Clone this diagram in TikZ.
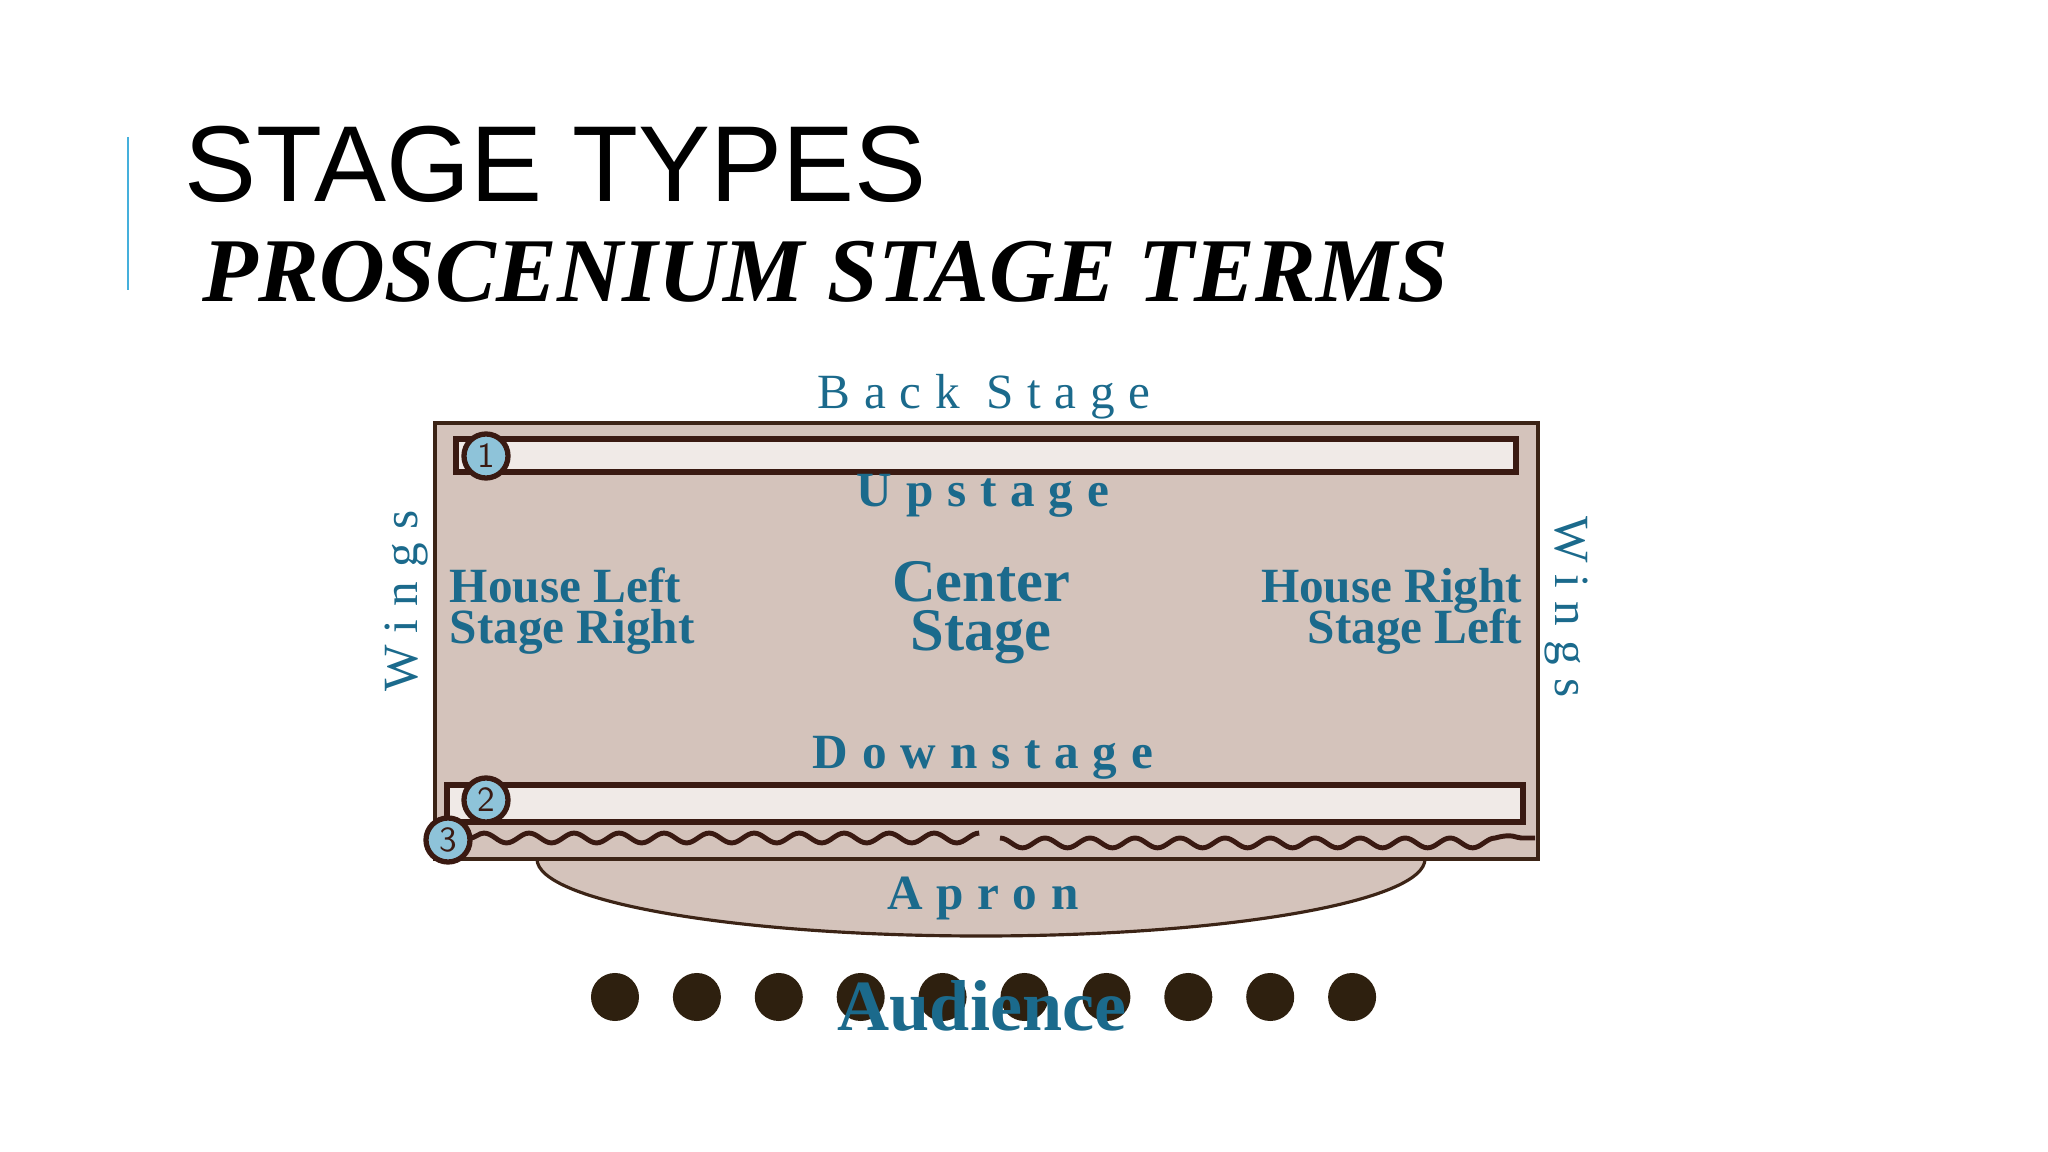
\documentclass[tikz,border=0pt]{standalone}
\usepackage{fontspec}
\setmainfont{Liberation Serif}
\newfontfamily\headfont{Liberation Sans}
\newfontfamily\trackfont[LetterSpace=28]{Liberation Serif}
\usetikzlibrary{decorations.pathmorphing}
\newcommand\tightlines{\lineskiplimit=-20pt\relax}
\definecolor{stageblue}{HTML}{1B6A8C}
\definecolor{stagefill}{HTML}{D4C3BB}
\definecolor{stageline}{HTML}{3C2416}
\definecolor{barline}{HTML}{3A1A12}
\definecolor{curtainfill}{HTML}{F0EAE7}
\definecolor{markfill}{HTML}{8EC3D9}
\definecolor{seatbrown}{HTML}{2E200F}
\definecolor{accentblue}{HTML}{45B0DC}
\begin{document}
\begin{tikzpicture}[x=0.01cm,y=-0.01cm,
    lbl/.style={text=stageblue,inner sep=0pt,
      font=\bfseries\fontsize{14}{11.6}\selectfont\tightlines},
    big/.style={text=stageblue,inner sep=0pt,
      font=\bfseries\fontsize{17.2}{13.9}\selectfont\tightlines},
    track/.style={text=stageblue,inner sep=0pt,font=\trackfont\fontsize{14}{14}\selectfont},
    boldtrack/.style={text=stageblue,inner sep=0pt,font=\trackfont\bfseries\fontsize{14}{14}\selectfont},
    curtain/.style={draw=barline,line width=1.8pt,fill=curtainfill},
    marker/.style={circle,draw=barline,line width=1.5pt,fill=markfill,minimum size=0.44cm,inner sep=0pt,
      text=barline,font=\sffamily\fontsize{10}{10}\selectfont},
    seat/.style={circle,fill=seatbrown,minimum size=0.48cm,inner sep=0pt}]
  \useasboundingbox (0,0) rectangle (2048,1152);
  % heading
  \draw[accentblue,line width=0.6pt] (128,137) -- (128,290);
  \node[anchor=base west,inner sep=0pt,font=\headfont\fontsize{30.7}{31}\selectfont] (title) at (184,202) {STAGE TYPES};
  \node[anchor=base west,inner sep=0pt,font=\bfseries\itshape\fontsize{25.9}{26}\selectfont] (subtitle) at (202,302) {PROSCENIUM STAGE TERMS};
  % apron and stage
  \filldraw[fill=stagefill,draw=stageline,line width=0.9pt] (537,859) arc[start angle=180,end angle=0,x radius=444,y radius=77];
  \filldraw[fill=stagefill,draw=stageline,line width=0.9pt] (435,423) rectangle (1538,859);
  \draw[curtain] (456,439) rectangle (1516,472);
  \draw[curtain] (447,785) rectangle (1523,822);
  \draw[barline,line width=1.4pt,decorate,decoration={snake,amplitude=1.4pt,segment length=12.8pt}]
    (470,838) -- (967,838) (1000,838) -- (1535,838);
  \node[marker] (m1) at (486,456) {1};
  \node[marker] (m2) at (486,800) {2};
  \node[marker] (m3) at (448,840) {3};
  % labels
  \node[track,anchor=base] (backstage) at (984,409) {Back Stage};
  \node[boldtrack,anchor=base] (upstage) at (983,507) {Upstage};
  \node[boldtrack,anchor=base] (downstage) at (983,768) {Downstage};
  \node[boldtrack,anchor=base] (apron) at (983,909) {Apron};
  \node[track,rotate=90] (wingsl) at (407,601) {Wings};
  \node[track,rotate=-90] (wingsr) at (1566,607) {Wings};
  \node[lbl,anchor=base west,align=left] (houseleft) at (449,643) {House Left\\Stage Right};
  \node[big,anchor=base,align=center] (centrestage) at (981,650) {Center\\Stage};
  \node[lbl,anchor=base east,align=right] (houseright) at (1523,643) {House Right\\Stage Left};
  % audience
  \foreach \i in {0,...,9}
    \node[seat] (seat\i) at (615+81.9*\i,997) {};
  \node[text=stageblue,inner sep=0pt,font=\bfseries\fontsize{20.5}{20.5}\selectfont,anchor=base] (audience) at (982,1030) {Audience};
\end{tikzpicture}
\end{document}
